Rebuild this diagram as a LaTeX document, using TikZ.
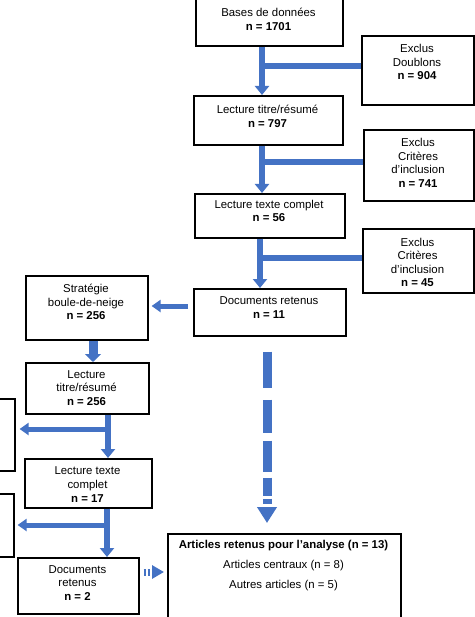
\documentclass[tikz,border=0pt]{standalone}
\usepackage{fontspec}
\setmainfont{Liberation Sans}
\usetikzlibrary{arrows.meta,calc}
\definecolor{arrblue}{RGB}{68,114,196}
\begin{document}
\begin{tikzpicture}[x=1pt,y=-1pt,
  box/.style={draw=black, line width=1.6pt, fill=white, inner sep=0pt, anchor=north west},
  txt/.style={align=center, font=\fontsize{11.4}{13.6}\selectfont, inner sep=0pt},
  flow/.style={draw=arrblue, line width=6pt, -{Triangle[width=14pt,length=9pt]}},
  flowwide/.style={draw=arrblue, line width=9pt, -{Triangle[width=16pt,length=8pt]}},
  flowthin/.style={draw=arrblue, line width=5pt, -{Triangle[width=12pt,length=9pt]}},
  bar/.style={draw=arrblue, line width=6pt},
  dashflow/.style={draw=arrblue, line width=9pt, -{Triangle[width=19pt,length=16pt]},
    dash pattern=on 36pt off 12pt on 33pt off 8pt on 31pt off 6pt on 18pt off 3pt on 5pt off 5pt},
  smalldash/.style={draw=arrblue, line width=7pt, -{Triangle[width=13pt,length=12pt]},
    dash pattern=on 2.5pt off 1.5pt},
]
\useasboundingbox (0,0) rectangle (474,617);

% boxes
\node[box, minimum width=147pt, minimum height=55pt] (bases) at (195,-10) {};
\node[box, minimum width=112pt, minimum height=69pt] (ex1) at (361,35) {};
\node[box, minimum width=149pt, minimum height=49pt] (lt1) at (193,95) {};
\node[box, minimum width=110pt, minimum height=71pt] (ex2) at (363,129) {};
\node[box, minimum width=150pt, minimum height=44pt] (ltc) at (194,193) {};
\node[box, minimum width=111pt, minimum height=64pt] (ex3) at (362,228) {};
\node[box, minimum width=152pt, minimum height=47pt] (dr11) at (193,288) {};
\node[box, minimum width=122pt, minimum height=64pt] (strat) at (25,275) {};
\node[box, minimum width=123pt, minimum height=51pt] (lt256) at (25,362) {};
\node[box, minimum width=24pt, minimum height=72pt] (left1) at (-10,398) {};
\node[box, minimum width=127pt, minimum height=49pt] (ltc17) at (24,458) {};
\node[box, minimum width=23pt, minimum height=63pt] (left2) at (-10,493) {};
\node[box, minimum width=121pt, minimum height=56pt] (dr2) at (17,557) {};
\node[box, minimum width=233pt, minimum height=100pt] (art) at (167,533) {};

% texts
\node[txt] (bases-t) at (268.5,19.5) {Bases de données\\\textbf{n = 1701}};
\node[txt] (ex1-t) at (417,62) {Exclus\\Doublons\\\textbf{n = 904}};
\node[txt] (lt1-t) at (267.5,116.5) {Lecture titre/résumé\\\textbf{n = 797}};
\node[txt] (ex2-t) at (418,163) {Exclus\\Critères\\d’inclusion\\\textbf{n = 741}};
\node[txt] (ltc-t) at (269,211) {Lecture texte complet\\\textbf{n = 56}};
\node[txt] (ex3-t) at (417.5,262.5) {Exclus\\Critères\\d’inclusion\\\textbf{n = 45}};
\node[txt] (dr11-t) at (269,307.5) {Documents retenus\\\textbf{n = 11}};
\node[txt] (strat-t) at (86,302) {Stratégie\\boule-de-neige\\\textbf{n = 256}};
\node[txt] (lt256-t) at (86.5,388) {Lecture\\titre/résumé\\\textbf{n = 256}};
\node[txt] (ltc17-t) at (87.5,484.5) {Lecture texte\\complet\\\textbf{n = 17}};
\node[txt] (dr2-t) at (77.5,583) {Documents\\retenus\\\textbf{n = 2}};
\node[txt, font=\fontsize{11.4}{20}\selectfont] (art-t) at (283.5,566)
  {\textbf{Articles retenus pour l’analyse (n = 13)}\\Articles centraux (n = 8)\\Autres articles (n = 5)};

% connector coordinates
\coordinate (c1) at (262,66);
\coordinate (c2) at (262,162);
\coordinate (c3) at (260,258);
\coordinate (c4) at (0,306);
\coordinate (c5) at (93,0);
\coordinate (c6) at (108,429);
\coordinate (c7) at (107,525);
\coordinate (c8) at (267,0);
\coordinate (c9) at (0,572);

% main column
\draw[bar] (ex1.west |- c1) -- (c1);
\draw[flow] (bases.south -| c1) -- (lt1.north -| c1);
\draw[bar] (ex2.west |- c2) -- (c2);
\draw[flow] (lt1.south -| c2) -- (ltc.north -| c2);
\draw[bar] (ex3.west |- c3) -- (c3);
\draw[flow] (ltc.south -| c3) -- (dr11.north -| c3);

% to snowball
\draw[flowthin] ([xshift=-5pt]dr11.west |- c4) -- ([xshift=3pt]strat.east |- c4);
\draw[flowwide] (strat.south -| c5) -- (lt256.north -| c5);

% left column
\draw[flow] (lt256.south -| c6) -- (ltc17.north -| c6);
\draw[flowthin] (c6) -- ([xshift=4pt]left1.east |- c6);
\draw[flow] (ltc17.south -| c7) -- (dr2.north -| c7);
\draw[flowthin] (c7) -- ([xshift=3pt]left2.east |- c7);

% dashed arrows
\draw[dashflow] ([yshift=-15pt]dr11.south -| c8) -- ([yshift=10pt]art.north -| c8);
\draw[smalldash] ([xshift=4pt]dr2.east |- c9) -- ([xshift=-3pt]art.west |- c9);
\end{tikzpicture}
\end{document}
